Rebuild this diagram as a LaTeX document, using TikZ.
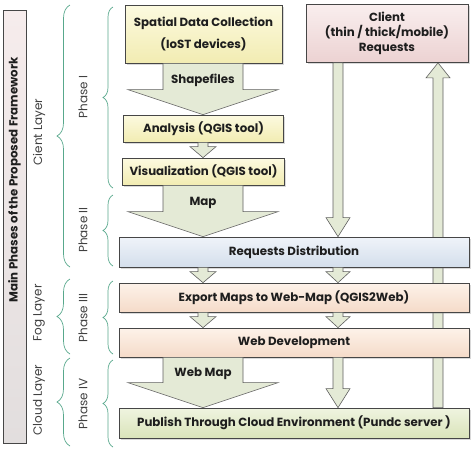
\documentclass[tikz,border=0pt]{standalone}
\usepackage{fontspec}
\setmainfont{Poppins}
\usepackage{tikz}
\usetikzlibrary{shadows, decorations.pathreplacing, backgrounds, calc}

\definecolor{boxline}{RGB}{70,70,70}
\definecolor{textdark}{RGB}{30,30,30}
\definecolor{arrowline}{RGB}{95,95,95}
\definecolor{arrowfill}{RGB}{228,234,214}
\definecolor{bracegreen}{RGB}{88,168,140}

\tikzstyle{box} = [draw=boxline, line width=0.7pt, text=textdark, align=center, inner sep=2pt,
  font=\bfseries\fontsize{11.8}{15}\selectfont,
  drop shadow={shadow xshift=1.5pt, shadow yshift=-1.5pt, opacity=0.3}]
\tikzstyle{yellowbox} = [box, top color={rgb,255:red,252;green,250;blue,224}, bottom color={rgb,255:red,242;green,236;blue,178}]
\tikzstyle{pinkbox} = [box, top color={rgb,255:red,249;green,238;blue,238}, bottom color={rgb,255:red,236;green,210;blue,210}]
\tikzstyle{bluebox} = [box, top color={rgb,255:red,239;green,243;blue,249}, bottom color={rgb,255:red,212;green,223;blue,236}]
\tikzstyle{peachbox} = [box, top color={rgb,255:red,253;green,242;blue,233}, bottom color={rgb,255:red,245;green,219;blue,201}]
\tikzstyle{greenbox} = [box, top color={rgb,255:red,239;green,244;blue,224}, bottom color={rgb,255:red,218;green,228;blue,186}]
\tikzstyle{blockarr} = [draw=arrowline, line width=0.6pt, fill=arrowfill]
\tikzstyle{arrowlabel} = [text=textdark, font=\bfseries\fontsize{11.8}{14}\selectfont, inner sep=1pt]
\tikzstyle{sidelabel} = [rotate=90, text=textdark!85, font=\fontsize{12}{14}\selectfont, inner sep=1pt]
\tikzset{
  bracket/.style={draw=bracegreen, line width=0.7pt, decorate, decoration={brace, amplitude=#1}}
}

% downward block arrow: from, to, stem half width, head half width, head length
\newcommand{\blockarrow}[5]{%
  \path[blockarr] let \p1=(#1), \p2=(#2) in
    (\x1-#3,\y1) -- (\x1+#3,\y1) -- (\x1+#3,\y2+#5) -- (\x1+#4,\y2+#5) -- (\x1,\y2)
    -- (\x1-#4,\y2+#5) -- (\x1-#3,\y2+#5) -- cycle;}

\begin{document}
\begin{tikzpicture}[x=1pt, y=-1pt]
  \useasboundingbox (0,0) rectangle (474,448);

  % Title
  \node[draw=boxline, line width=1pt, minimum width=23pt, minimum height=433pt,
        top color={rgb,255:red,246;green,236;blue,236}, bottom color={rgb,255:red,226;green,222;blue,222},
        drop shadow={shadow xshift=1.2pt, shadow yshift=-1.2pt, opacity=0.3}] (titlebox) at (14.5,226.5) {};
  \node[rotate=90, text=textdark, font=\bfseries\fontsize{11.8}{14}\selectfont] (title) at (14.5,180)
    {Main Phases of the Proposed Framework};

  % Layers
  \node[sidelabel] (clientlayer) at (39,132) {Cient Layer};
  \node[sidelabel] (foglayer) at (39,313) {Fog Layer};
  \node[sidelabel] (cloudlayer) at (39,400) {Cloud Layer};
  \draw[bracket=13pt] (70,267) -- (70,5);
  \draw[bracket=13pt] (70,354) -- (70,279);
  \draw[bracket=13pt] (70,446) -- (70,358);

  % Phases
  \node[sidelabel] (phaseI) at (83,97) {Phase I};
  \node[sidelabel] (phaseII) at (83,230) {Phase II};
  \node[sidelabel] (phaseIII) at (83,318) {Phase III};
  \node[sidelabel] (phaseIV) at (83,404) {Phase IV};
  \draw[bracket=10pt] (113,188) -- (113,7);
  \draw[bracket=10pt] (113,266) -- (113,195);
  \draw[bracket=10pt] (113,354) -- (113,281);
  \draw[bracket=10pt] (113,447) -- (113,360);

  % Columns
  \coordinate (colA) at (203,0);
  \coordinate (colB) at (338,0);
  \coordinate (colC) at (438,0);

  % Nodes
  \node[yellowbox, minimum width=157pt, minimum height=58pt] (spatial) at (203.5,34)
    {Spatial Data Collection\\[7pt](IoST devices)};
  \node[pinkbox, minimum width=162pt, minimum height=58pt] (client) at (387,33.5)
    {Client\\(thin / thick/mobile)\\Requests};
  \node[yellowbox, minimum width=160pt, minimum height=27pt] (analysis) at (203.5,128.5) {Analysis (QGIS tool)};
  \node[yellowbox, minimum width=162pt, minimum height=27pt] (visual) at (203.5,171.5) {Visualization (QGIS tool)};
  \node[bluebox, minimum width=350pt, minimum height=30pt] (reqdist) at (294,252) {Requests Distribution};
  \node[peachbox, minimum width=350pt, minimum height=29pt] (export) at (294,297.5) {Export Maps to Web-Map (QGIS2Web)};
  \node[peachbox, minimum width=350pt, minimum height=29pt] (webdev) at (294,342.5) {Web Development};
  \node[greenbox, minimum width=350pt, minimum height=30pt] (publish) at (294,423) {Publish Through Cloud Environment (Pundc server )};

  % Edges
  \begin{scope}[on background layer]
    \path[blockarr] let \p1=(colC |- publish.north), \p2=(colC |- client.south) in
      (\x1-5pt,\y1) -- (\x1+5pt,\y1) -- (\x1+5pt,\y2-15pt) -- (\x1+12pt,\y2-15pt) -- (\x1,\y2)
      -- (\x1-12pt,\y2-15pt) -- (\x1-5pt,\y2-15pt) -- cycle;
  \end{scope}
  \blockarrow{colA |- spatial.south}{analysis.north}{40pt}{75pt}{25pt}
  \node[arrowlabel] (shapefiles) at (203,80) {Shapefiles};
  \blockarrow{colA |- analysis.south}{visual.north}{5pt}{13pt}{11pt}
  \blockarrow{colA |- visual.south}{reqdist.north}{40pt}{75pt}{25pt}
  \node[arrowlabel] (map) at (203,203) {Map};
  \blockarrow{colB |- client.south}{reqdist.north}{5pt}{12pt}{19pt}
  \blockarrow{colA |- reqdist.south}{export.north}{5pt}{13pt}{11pt}
  \blockarrow{colB |- reqdist.south}{export.north}{5pt}{12pt}{11pt}
  \blockarrow{colA |- export.south}{webdev.north}{5pt}{13pt}{11pt}
  \blockarrow{colB |- export.south}{webdev.north}{5pt}{12pt}{11pt}
  \blockarrow{colA |- webdev.south}{publish.north}{40pt}{75pt}{25pt}
  \node[arrowlabel] (webmap) at (203,374) {Web Map};
  \blockarrow{colB |- webdev.south}{publish.north}{5pt}{12pt}{19pt}
\end{tikzpicture}
\end{document}
